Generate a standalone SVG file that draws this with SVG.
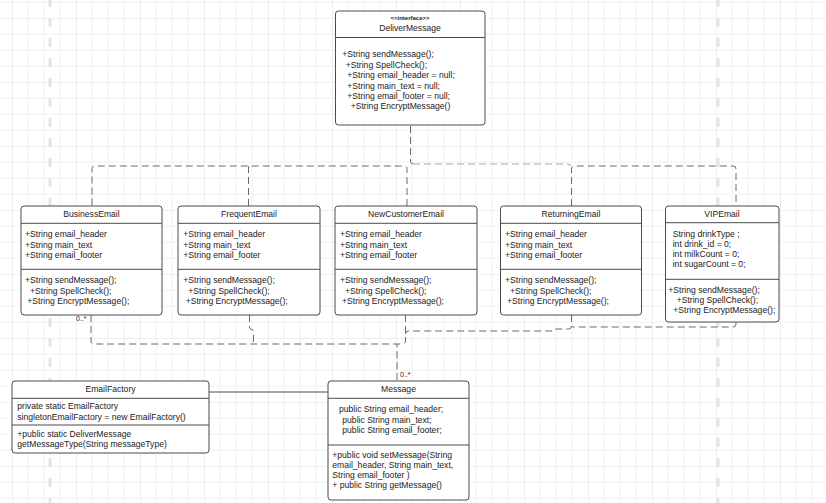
<svg xmlns="http://www.w3.org/2000/svg" width="826" height="503" viewBox="0 0 826 503">
<style>
text{font-family:"Liberation Sans",Arial,sans-serif;font-size:8.6px;fill:#222222}
.t{text-anchor:middle}
.st{font-size:6px;font-weight:bold}
.lbl{font-size:7px}
.box{fill:#ffffff;stroke:#4a4a4a;stroke-width:1}
.div{stroke:#4a4a4a;stroke-width:1;fill:none}
.dash{fill:none;stroke:#6a6a6a;stroke-width:1;stroke-dasharray:7 4}
.dashl{fill:none;stroke:#a8a8a8;stroke-width:1.2;stroke-dasharray:7 4}
.solid{fill:none;stroke:#4a4a4a;stroke-width:1}
.pb{stroke:#e4e4e4;stroke-width:3;stroke-dasharray:9 11;stroke-dashoffset:2}
</style>
<defs>
<pattern id="grid" patternUnits="userSpaceOnUse" x="12" y="18" width="64" height="64">
<path d="M16 0V64M32 0V64M48 0V64M0 16H64M0 32H64M0 48H64" stroke="#f0f0f0" stroke-width="1" fill="none"/>
<path d="M0 0V64M0 0H64" stroke="#e0e0e0" stroke-width="1" fill="none"/>
</pattern>
</defs>
<rect width="826" height="503" fill="#ffffff"/>
<rect width="826" height="503" fill="url(#grid)"/>
<line class="pb" x1="50" y1="0" x2="50" y2="503"/>
<line class="pb" x1="718" y1="0" x2="718" y2="503"/>

<g id="connectors">
<path class="dashl" d="M413,164 H567 Q570,164 570,166"/>
<path class="dash" d="M410.5,126 V161 Q410.5,164 413,164"/>
<path class="dash" d="M407,206 V169 Q407,166 404,166 H95 Q92,166 92,169 V206"/>
<path class="dash" d="M248.5,166 V206"/>
<path class="dash" d="M571.5,206 V169 Q571.5,166 574.5,166 H733 Q736,166 736,169 V206"/>
<path class="dash" d="M91,315 V341 Q91,344 94,344 H397 V380"/>
<path class="dash" d="M249.5,315 V327 Q249.5,329.5 252,329.5 Q253.5,329.5 253.5,332 V344"/>
<path class="dash" d="M405.5,315 V341 Q405.5,344 402.5,344 H397"/>
<path class="dash" d="M571.5,315 V326 Q571.5,329 568.5,329 H555 Q552,329 552,331 H408.5 Q405.5,331 405.5,334"/>
<path class="dash" d="M736,322 V324 Q736,327 733,327 H574 Q571.5,327 571.5,326"/>
<path class="solid" d="M209,392 H328"/>
<text class="lbl" x="76" y="321">0..*</text>
<text class="lbl" x="400" y="377">0..*</text>
</g>

<g id="DeliverMessage">
<rect class="box" x="335.5" y="11" width="149.5" height="114" rx="3"/>
<line class="div" x1="335.5" y1="37.5" x2="485" y2="37.5"/>
<text class="t st" x="410" y="20">&lt;&lt;interface&gt;&gt;</text>
<text class="t" x="410" y="31">DeliverMessage</text>
<text x="342.3" y="56.5">+String sendMessage();</text>
<text x="345.7" y="67.5">+String SpellCheck();</text>
<text x="347.3" y="78.2">+String email_header = null;</text>
<text x="347.3" y="88.5">+String main_text = null;</text>
<text x="347.3" y="98.9">+String email_footer = null;</text>
<text x="350.7" y="108.9">+String EncryptMessage()</text>
</g>

<g id="BusinessEmail">
<rect class="box" x="21" y="206" width="141" height="109" rx="3"/>
<line class="div" x1="21" y1="223.3" x2="162" y2="223.3"/>
<line class="div" x1="21" y1="269.3" x2="162" y2="269.3"/>
<text class="t" x="91.5" y="217.2">BusinessEmail</text>
<text x="25" y="237.2">+String email_header</text>
<text x="25" y="247.5">+String main_text</text>
<text x="25" y="258.2">+String email_footer</text>
<text x="25" y="283.2">+String sendMessage();</text>
<text x="30" y="293.9">+String SpellCheck();</text>
<text x="27.3" y="303.9">+String EncryptMessage();</text>
</g>

<g id="FrequentEmail">
<rect class="box" x="178" y="206" width="142" height="109" rx="3"/>
<line class="div" x1="178" y1="223.3" x2="320" y2="223.3"/>
<line class="div" x1="178" y1="269.3" x2="320" y2="269.3"/>
<text class="t" x="249" y="217.2">FrequentEmail</text>
<text x="183.3" y="237.2">+String email_header</text>
<text x="183.3" y="247.5">+String main_text</text>
<text x="183.3" y="258.2">+String email_footer</text>
<text x="183.3" y="283.2">+String sendMessage();</text>
<text x="188.3" y="293.9">+String SpellCheck();</text>
<text x="185.7" y="303.9">+String EncryptMessage();</text>
</g>

<g id="NewCustomerEmail">
<rect class="box" x="335" y="206" width="142" height="109" rx="3"/>
<line class="div" x1="335" y1="223.3" x2="477" y2="223.3"/>
<line class="div" x1="335" y1="269.3" x2="477" y2="269.3"/>
<text class="t" x="406" y="217.2">NewCustomerEmail</text>
<text x="340" y="237.2">+String email_header</text>
<text x="340" y="247.5">+String main_text</text>
<text x="340" y="258.2">+String email_footer</text>
<text x="340" y="283.2">+String sendMessage();</text>
<text x="345" y="293.9">+String SpellCheck();</text>
<text x="342" y="303.9">+String EncryptMessage();</text>
</g>

<g id="ReturningEmail">
<rect class="box" x="500.5" y="206" width="141" height="109" rx="3"/>
<line class="div" x1="500.5" y1="223.3" x2="641.5" y2="223.3"/>
<line class="div" x1="500.5" y1="269.3" x2="641.5" y2="269.3"/>
<text class="t" x="571" y="217.2">ReturningEmail</text>
<text x="505" y="237.2">+String email_header</text>
<text x="505" y="247.5">+String main_text</text>
<text x="505" y="258.2">+String email_footer</text>
<text x="505" y="283.2">+String sendMessage();</text>
<text x="510" y="293.9">+String SpellCheck();</text>
<text x="507" y="303.9">+String EncryptMessage();</text>
</g>

<g id="VIPEmail">
<rect class="box" x="665.5" y="206" width="113.5" height="116" rx="3"/>
<line class="div" x1="665.5" y1="222.7" x2="779" y2="222.7"/>
<line class="div" x1="665.5" y1="279.3" x2="779" y2="279.3"/>
<text class="t" x="722" y="216.5">VIPEmail</text>
<text x="672.7" y="236.5">String drinkType ;</text>
<text x="672.7" y="246.5">int drink_id = 0;</text>
<text x="672.7" y="256.5">int milkCount = 0;</text>
<text x="672.7" y="267.2">int sugarCount = 0;</text>
<text x="668.3" y="293.2">+String sendMessage();</text>
<text x="676.7" y="303.2">+String SpellCheck();</text>
<text x="673.3" y="313.2">+String EncryptMessage();</text>
</g>

<g id="EmailFactory">
<rect class="box" x="12" y="381" width="197" height="72" rx="3"/>
<line class="div" x1="12" y1="398.3" x2="209" y2="398.3"/>
<line class="div" x1="12" y1="425" x2="209" y2="425"/>
<text class="t" x="110.5" y="392">EmailFactory</text>
<text x="17.3" y="408.9">private static EmailFactory</text>
<text x="17.3" y="419.9">singletonEmailFactory = new EmailFactory()</text>
<text x="17.3" y="436.5">+public static DeliverMessage</text>
<text x="17.3" y="446.5">getMessageType(String messageType)</text>
</g>

<g id="Message">
<rect class="box" x="328" y="381" width="141" height="119" rx="3"/>
<line class="div" x1="328" y1="398.3" x2="469" y2="398.3"/>
<line class="div" x1="328" y1="445" x2="469" y2="445"/>
<text class="t" x="398.5" y="392.2">Message</text>
<text x="339" y="412.2">public String email_header;</text>
<text x="342.3" y="422.5">public String main_text;</text>
<text x="342.3" y="432.5">public String email_footer;</text>
<text x="332.3" y="458.2">+public void setMessage(String</text>
<text x="332.3" y="468.2">email_header, String main_text,</text>
<text x="332.3" y="478.2">String email_footer )</text>
<text x="332.3" y="488.2">+ public String getMessage()</text>
</g>
</svg>
